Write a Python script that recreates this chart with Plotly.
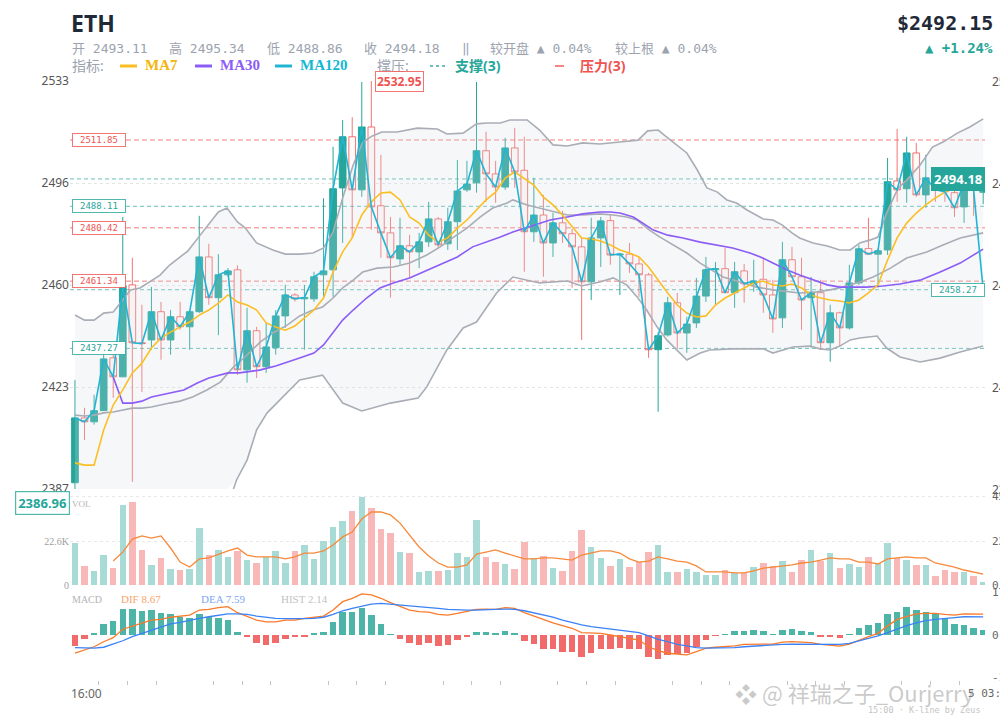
import plotly.graph_objects as go

# ---- ETH 15m candles ----
opens = [2389.2, 2412.4, 2411.0, 2415.0, 2433.9, 2427.1, 2460.0, 2439.3, 2440.3, 2450.4,
         2440.3, 2448.6, 2445.0, 2450.4, 2470.0, 2455.4, 2463.6, 2465.4, 2429.6, 2443.6,
         2430.7, 2437.5, 2448.9, 2456.4, 2455.0, 2455.0, 2463.6, 2465.4, 2494.7, 2513.0,
         2494.0, 2516.5, 2488.3, 2478.6, 2469.3, 2474.0, 2471.8, 2475.4, 2483.6, 2474.7,
         2482.6, 2494.0, 2496.5, 2508.0, 2499.7, 2495.0, 2509.0, 2501.0, 2479.0, 2485.0,
         2475.0, 2482.2, 2478.3, 2473.6, 2461.1, 2476.8, 2483.0, 2470.7, 2471.0, 2467.5,
         2463.6, 2436.8, 2442.1, 2453.6, 2442.8, 2446.4, 2456.0, 2465.4, 2465.8, 2457.2,
         2465.0, 2460.4, 2462.0, 2456.4, 2448.2, 2469.0, 2462.9, 2455.4, 2457.2, 2439.3,
         2450.0, 2444.6, 2460.7, 2473.0, 2471.0, 2472.5, 2497.2, 2494.4, 2507.2, 2492.2,
         2498.3, 2495.8, 2493.0, 2487.9, 2495.5, 2493.11]
highs = [2426.0, 2416.0, 2420.7, 2436.0, 2435.0, 2484.3, 2469.7, 2452.9, 2459.3, 2453.9,
         2451.0, 2453.9, 2451.0, 2484.7, 2474.7, 2471.0, 2466.0, 2467.0, 2451.8, 2445.0,
         2446.4, 2451.0, 2460.0, 2457.0, 2460.0, 2464.7, 2491.0, 2509.4, 2519.0, 2520.0,
         2532.6, 2532.95, 2506.5, 2484.3, 2484.0, 2477.9, 2478.6, 2489.7, 2484.3, 2487.6,
         2504.7, 2504.4, 2532.6, 2514.8, 2504.4, 2512.6, 2516.2, 2513.0, 2498.3, 2492.2,
         2485.8, 2486.5, 2480.0, 2476.8, 2484.0, 2484.3, 2485.0, 2471.5, 2475.0, 2470.0,
         2464.3, 2443.0, 2455.7, 2457.1, 2448.6, 2462.5, 2470.0, 2468.2, 2473.2, 2468.2,
         2467.5, 2469.0, 2469.7, 2461.8, 2475.4, 2473.6, 2469.7, 2462.9, 2461.8, 2452.9,
         2450.4, 2467.2, 2474.3, 2484.0, 2473.0, 2505.4, 2515.8, 2513.0, 2510.8, 2506.5,
         2502.0, 2497.0, 2495.0, 2500.0, 2496.0, 2495.34]
lows = [2386.96, 2404.5, 2410.0, 2415.0, 2419.6, 2427.0, 2389.5, 2421.7, 2436.8, 2433.2,
        2435.0, 2444.0, 2436.8, 2450.0, 2452.9, 2442.0, 2463.0, 2427.8, 2425.0, 2426.7,
        2428.5, 2435.0, 2444.6, 2454.0, 2436.8, 2453.9, 2455.7, 2455.7, 2475.0, 2476.8,
        2491.5, 2479.7, 2469.7, 2455.4, 2467.2, 2462.5, 2466.0, 2473.6, 2473.0, 2472.5,
        2472.5, 2493.3, 2493.0, 2489.7, 2489.4, 2494.0, 2494.7, 2464.7, 2475.4, 2462.9,
        2470.0, 2475.0, 2459.0, 2440.3, 2454.6, 2466.4, 2467.2, 2456.4, 2464.3, 2455.7,
        2433.9, 2414.6, 2441.5, 2437.0, 2435.7, 2444.6, 2453.9, 2452.9, 2457.0, 2451.8,
        2453.6, 2457.5, 2450.0, 2442.8, 2444.6, 2462.5, 2443.9, 2437.5, 2436.8, 2432.5,
        2437.8, 2444.0, 2460.0, 2471.0, 2459.0, 2470.7, 2489.7, 2489.4, 2491.5, 2487.6,
        2489.7, 2489.7, 2484.3, 2482.2, 2484.7, 2488.86]
closes = [2412.4, 2411.0, 2415.0, 2433.5, 2427.1, 2459.7, 2439.3, 2439.0, 2450.4, 2440.3,
          2448.6, 2445.0, 2450.4, 2470.0, 2455.4, 2463.6, 2465.0, 2429.6, 2443.6, 2430.7,
          2437.8, 2448.9, 2456.4, 2455.0, 2455.5, 2462.9, 2465.0, 2494.4, 2513.0, 2494.0,
          2516.5, 2487.9, 2478.6, 2469.7, 2474.0, 2471.8, 2475.4, 2483.6, 2474.3, 2482.6,
          2493.6, 2496.1, 2508.0, 2499.7, 2495.0, 2509.0, 2500.4, 2479.0, 2485.0, 2475.0,
          2482.2, 2478.3, 2473.6, 2461.1, 2476.8, 2482.9, 2470.7, 2471.0, 2467.5, 2463.6,
          2436.8, 2441.8, 2453.6, 2442.8, 2446.0, 2456.0, 2465.4, 2465.8, 2457.2, 2464.7,
          2460.4, 2461.4, 2456.4, 2447.8, 2469.0, 2462.9, 2454.6, 2457.2, 2439.3, 2450.0,
          2444.6, 2460.7, 2472.9, 2471.0, 2472.2, 2496.9, 2494.0, 2507.2, 2492.2, 2498.3,
          2494.0, 2493.3, 2487.6, 2496.5, 2494.0, 2494.18]

# indicator lines on the price panel
ma7 = [2396.3, 2395.5, 2395.5, 2408.1, 2417.0, 2422.4, 2428.5, 2432.0, 2437.4, 2441.0,
       2443.1, 2444.9, 2446.7, 2449.2, 2451.0, 2453.5, 2456.4, 2453.9, 2452.8, 2451.0,
       2446.4, 2444.9, 2443.8, 2445.3, 2448.1, 2451.0, 2455.3, 2464.6, 2471.8, 2476.8,
       2485.0, 2489.7, 2492.9, 2493.2, 2490.4, 2484.3, 2482.1, 2477.8, 2475.3, 2476.8,
       2480.3, 2483.2, 2486.8, 2490.4, 2493.2, 2498.2, 2500.4, 2498.2, 2495.7, 2491.4,
       2488.6, 2485.0, 2480.7, 2476.8, 2476.4, 2475.7, 2474.3, 2472.5, 2471.4, 2470.0,
       2466.4, 2461.7, 2457.1, 2452.8, 2449.9, 2448.5, 2448.9, 2452.8, 2455.3, 2457.1,
       2458.9, 2460.7, 2461.4, 2460.0, 2459.6, 2460.3, 2458.9, 2456.4, 2455.3, 2454.6,
       2454.2, 2453.5, 2454.6, 2457.1, 2460.0, 2468.9, 2476.8, 2482.1, 2485.7, 2488.6,
       2491.1, 2493.2, 2494.7, 2495.0, 2494.3, 2494.3]
ma30_x = [4, 5, 6, 7, 8, 10, 11.4, 12.8, 14, 16, 17.2, 19.3, 21, 23.5, 25, 26, 27, 28, 29.1, 30.5,
          31.9, 33.3, 35, 36.4, 38.2, 40, 41.6, 43.1, 44.5, 45.8, 48, 49.7, 51.5, 53.1, 54.9, 56,
          57, 58.4, 59.4, 60.5, 62, 63.6, 65.4, 67.2, 68.8, 70.6, 71.7, 73, 74.5, 75.8, 77.2,
          78.7, 80, 81.4, 82.8, 84.5, 86.3, 88.4, 90.5, 92.6, 95]
ma30 = [2427.0, 2417.7, 2417.7, 2418.4, 2419.9, 2421.3, 2422.4, 2424.9, 2426.7, 2428.5,
        2428.5, 2429.5, 2431.0, 2433.8, 2435.6, 2438.5, 2443.1, 2447.4, 2451.0, 2455.3,
        2458.9, 2460.7, 2462.5, 2464.6, 2467.5, 2470.0, 2473.6, 2475.3, 2477.1, 2478.9,
        2481.4, 2483.2, 2484.3, 2485.4, 2486.1, 2486.1, 2485.7, 2484.3, 2482.1, 2479.6,
        2477.8, 2476.8, 2475.3, 2474.3, 2473.2, 2471.4, 2470.0, 2467.8, 2465.3, 2463.5,
        2461.7, 2460.0, 2459.2, 2459.2, 2459.2, 2459.6, 2460.3, 2461.7, 2464.6, 2467.8, 2472.8]
# MA120 line follows the closes, except the last point
ma120 = closes[:-1] + [2458.27]

bb_upper_x = [0, 1, 2, 3, 4, 5, 5.8, 6.8, 8.9, 9.9, 11.8, 13.1, 15, 15.9, 17, 17.8, 19, 20.7, 22,
              23.5, 24.9, 26, 27, 28, 29.1, 30.1, 31.1, 32.1, 33.7, 35.8, 37.9, 38.9, 40.6, 42,
              43.1, 44.5, 45.5, 47.3, 48.6, 50, 51.5, 53.1, 54.9, 57, 58.9, 59.9, 61, 62, 64,
              65.1, 66.1, 67.2, 68.2, 69.2, 70.3, 72, 73, 74, 75, 75.8, 77.2, 78.7, 80, 81.1,
              82.1, 83.2, 84, 84.9, 86.1, 87, 88.4, 89.7, 90.8, 92.3, 93.6, 95]
bb_upper = [2449.2, 2447.4, 2447.4, 2449.9, 2450.3, 2454.6, 2458.2, 2458.9, 2463.5, 2467.1,
            2472.1, 2477.8, 2486.1, 2487.5, 2482.5, 2480.4, 2475.0, 2472.5, 2471.0, 2471.0,
            2471.4, 2473.2, 2478.9, 2491.1, 2502.9, 2511.1, 2513.3, 2514.7, 2514.7, 2516.1,
            2515.8, 2514.0, 2514.3, 2517.6, 2517.9, 2517.9, 2519.0, 2519.0, 2515.4, 2510.1,
            2509.7, 2510.8, 2510.4, 2511.1, 2511.8, 2515.1, 2515.4, 2512.6, 2507.2, 2501.1,
            2494.7, 2493.2, 2490.4, 2489.3, 2486.8, 2483.6, 2483.2, 2481.4, 2478.6, 2476.8,
            2475.0, 2473.9, 2472.5, 2472.5, 2475.0, 2476.1, 2477.1, 2485.7, 2494.7, 2497.5,
            2502.9, 2509.3, 2511.1, 2514.3, 2516.5, 2519.4]
bb_mid_x = [0, 1, 2, 3, 4, 5, 6, 7, 8, 9.9, 11, 12.3, 13.8, 15.2, 16.5, 18, 19.4, 20.7, 22.2,
            23.5, 24.9, 25.9, 27, 28, 29.1, 30.1, 31.6, 33.3, 35, 36.8, 38.2, 39.5, 41, 42.4,
            43.7, 45.2, 45.8, 47.3, 48.6, 50, 51.5, 53.1, 54.9, 56.3, 57.7, 58.8, 60.1, 61.2,
            62.6, 64, 65.4, 66.4, 67.8, 69.6, 71.3, 73, 74.5, 75.8, 77.6, 79, 80.3, 82.1, 83.5,
            85.3, 87, 89.1, 90.8, 92.6, 95]
bb_mid = [2413.4, 2413.1, 2413.4, 2414.2, 2414.5, 2415.2, 2415.9, 2415.9, 2416.3, 2417.7,
          2418.4, 2419.9, 2422.4, 2425.2, 2430.3, 2434.9, 2439.6, 2442.8, 2445.6, 2448.9,
          2451.0, 2452.1, 2455.3, 2458.9, 2461.7, 2464.6, 2466.0, 2466.4, 2467.8, 2470.7,
          2473.6, 2476.8, 2480.3, 2484.3, 2487.5, 2489.3, 2490.4, 2488.6, 2487.5, 2486.1,
          2485.0, 2485.0, 2485.4, 2485.0, 2484.3, 2483.2, 2479.6, 2477.1, 2474.3, 2471.4,
          2467.8, 2465.7, 2462.8, 2461.0, 2459.2, 2458.2, 2457.5, 2457.1, 2457.5, 2458.2,
          2459.2, 2461.0, 2462.8, 2466.0, 2469.6, 2471.8, 2474.3, 2476.8, 2478.6]
bb_lower_x = [0, 1.9, 4, 4.9, 6, 7, 7.9, 9, 11, 11.9, 13, 13.9, 15, 15.9, 16.9, 18, 19, 20.1,
              21.4, 22.8, 23.5, 25.9, 28, 30, 33, 35.9, 36.8, 38.9, 40.6, 42, 44.1, 45.8, 48.6,
              51.5, 53, 54.9, 56.3, 57.7, 58.8, 59.8, 60.9, 61.9, 63, 64, 65.4, 66.4, 68.8, 70.9,
              72, 73, 74.1, 75.1, 76.9, 77.9, 79, 80, 81.1, 82.1, 83.9, 84.9, 86.3, 88.4, 90.5,
              92.6, 95]
bb_lower = [2378.4, 2378.0, 2377.6, 2374.8, 2374.4, 2374.4, 2373.0, 2374.1, 2373.7, 2373.4,
            2371.6, 2372.3, 2373.0, 2380.2, 2390.2, 2397.3, 2408.1, 2414.2, 2418.8, 2423.5,
            2426.0, 2427.7, 2417.7, 2414.9, 2417.7, 2419.5, 2423.5, 2436.7, 2444.6, 2446.7,
            2457.1, 2462.8, 2460.7, 2461.4, 2459.6, 2461.0, 2462.5, 2460.0, 2455.7, 2451.0,
            2444.9, 2440.3, 2436.7, 2433.1, 2435.6, 2436.7, 2437.1, 2437.1, 2437.1, 2435.6,
            2436.7, 2437.8, 2438.1, 2437.1, 2436.7, 2438.1, 2440.3, 2441.0, 2441.7, 2437.4,
            2434.2, 2432.4, 2433.8, 2436.0, 2438.1]

# volume panel (thousands)
volume_k = [21.6, 9.8, 7.2, 15.4, 8.7, 41.0, 42.6, 18.0, 10.3, 13.9,
            8.2, 7.7, 8.2, 29.3, 15.4, 18.0, 14.4, 17.5, 12.8, 11.3,
            14.4, 17.5, 11.3, 17.5, 20.5, 13.4, 22.6, 29.8, 32.9, 38.0,
            45.3, 39.5, 28.8, 26.7, 17.0, 16.4, 6.7, 7.2, 7.2, 7.7,
            16.4, 14.4, 33.4, 14.4, 11.8, 10.8, 8.2, 22.1, 13.9, 14.9,
            8.7, 7.2, 17.5, 28.2, 19.5, 13.9, 9.8, 13.4, 9.2, 11.8,
            16.9, 20.5, 6.7, 6.7, 8.2, 6.7, 5.1, 5.0, 7.7, 6.2,
            6.2, 9.2, 11.3, 9.8, 12.3, 6.7, 12.8, 18.0, 12.3, 16.4,
            8.7, 10.8, 9.2, 14.4, 11.3, 21.6, 13.9, 12.8, 10.3, 10.3,
            4.6, 7.7, 6.7, 6.7, 4.6, 1.5]
vol_ma_start = 4
vol_ma_k = [12.3, 16.9, 23.6, 25.2, 24.1, 25.2, 19.0, 11.8, 9.2, 13.4,
            13.9, 15.9, 17.5, 19.0, 15.4, 14.4, 14.4, 14.4, 13.4, 14.4,
            16.4, 16.4, 17.5, 20.5, 24.7, 27.2, 33.9, 37.5, 37.5, 36.0,
            31.8, 25.7, 19.5, 14.9, 11.3, 9.2, 9.2, 10.3, 15.9, 16.9,
            18.0, 16.4, 14.9, 13.4, 13.4, 13.9, 13.9, 13.4, 12.8, 15.4,
            16.4, 17.5, 17.5, 16.4, 13.4, 11.8, 12.3, 14.4, 13.4, 12.3,
            11.8, 9.8, 6.7, 6.7, 6.7, 6.2, 6.2, 7.2, 8.7, 9.2,
            9.8, 10.3, 11.3, 11.8, 12.8, 13.9, 13.4, 13.4, 11.8, 11.8,
            10.8, 13.4, 13.9, 14.4, 13.9, 13.9, 11.3, 10.3, 9.2, 7.7,
            6.7, 5.6]

# MACD panel
macd_hist = [-4.6, -1.7, 0.7, 4.4, 5.8, 10.7, 10.7, 10.0, 10.4, 9.0,
             8.8, 7.6, 6.9, 8.6, 7.4, 6.9, 6.2, 1.1, -0.7, -3.5,
             -4.2, -3.2, -1.7, -1.0, -0.7, 0.7, 1.4, 5.3, 9.4, 9.4,
             11.4, 8.3, 4.4, 0.4, -1.7, -3.5, -4.2, -3.5, -4.4, -4.0,
             -2.1, -0.7, 1.4, 1.4, 0.7, 1.7, 1.0, -2.4, -3.8, -5.8,
             -6.0, -6.9, -7.2, -9.0, -7.6, -5.8, -5.8, -5.6, -5.8, -5.8,
             -9.0, -10.0, -8.3, -8.0, -7.4, -4.9, -2.1, -0.3, 0.4, 1.7,
             1.8, 2.1, 1.7, 0.4, 2.1, 2.5, 1.7, 1.4, -0.7, -0.7,
             -1.4, 0.4, 3.1, 4.2, 5.1, 8.6, 9.7, 11.8, 10.4, 9.7,
             8.6, 6.9, 4.6, 4.2, 3.1, 2.14]
macd_dif = [-7.6, -6.3, -4.9, -2.8, -1.1, 2.4, 3.8, 4.9, 6.2, 6.5,
            7.4, 7.9, 8.3, 10.4, 10.7, 11.4, 11.8, 9.3, 7.6, 6.2,
            5.5, 5.5, 6.2, 6.2, 6.9, 7.5, 7.9, 10.4, 13.9, 15.3,
            17.1, 16.7, 15.3, 13.5, 11.8, 10.4, 9.7, 9.5, 8.6, 8.3,
            9.0, 9.7, 10.7, 10.8, 10.7, 11.4, 11.1, 9.3, 7.9, 6.2,
            5.1, 3.9, 2.8, 1.0, 1.0, 0.7, 0.0, -0.7, -1.4, -2.1,
            -4.9, -6.5, -7.6, -7.9, -8.3, -6.9, -5.5, -5.1, -4.9, -4.5,
            -3.9, -3.8, -4.0, -3.8, -3.0, -2.8, -3.0, -3.2, -3.9, -4.2,
            -4.6, -3.8, -2.1, -0.7, 0.7, 3.8, 6.5, 7.6, 8.8, 9.0,
            9.0, 8.6, 8.3, 8.8, 8.6, 8.67]
macd_dea = [-5.3, -5.5, -5.5, -5.1, -3.9, -2.4, -0.7, 0.7, 2.1, 3.5,
            4.6, 5.3, 6.2, 6.9, 7.6, 8.3, 8.8, 8.8, 8.6, 7.9,
            7.4, 6.9, 6.8, 6.7, 6.8, 6.9, 7.4, 8.6, 10.1, 11.1,
            12.1, 12.9, 13.2, 12.9, 12.5, 12.1, 11.8, 11.4, 11.1, 10.7,
            10.4, 10.4, 10.4, 10.4, 10.7, 10.8, 10.7, 10.1, 9.3, 8.3,
            7.4, 6.2, 5.1, 4.2, 3.5, 3.0, 2.5, 2.1, 1.7, 1.0,
            -0.4, -1.8, -2.8, -3.9, -4.5, -5.3, -5.5, -5.5, -5.5, -5.3,
            -4.9, -4.6, -4.5, -4.2, -3.9, -3.8, -3.8, -3.8, -3.8, -3.9,
            -3.9, -3.5, -2.5, -1.4, -0.4, 1.0, 2.5, 3.9, 5.1, 6.0,
            6.5, 7.0, 7.2, 7.6, 7.6, 7.59]

# support / pressure levels and the live price line
support_levels = [2488.11, 2437.27, 2458.27]
support_label_side = ["left", "left", "right"]
pressure_levels = [2511.85, 2480.42, 2461.34]
price_line = 2497.9
last_price_text = "2494.18"

price_tick_labels = ["2387", "2423", "2460", "2496", "2533"]
vol_tick_labels = ["0", "22.6K", "45.3K"]
vol_tick_vals = [0, 22.6, 45.3]
macd_tick_labels = ["-17.52", "0", "17.52"]
macd_tick_vals = [-17.52, 0, 17.52]

header_stats = [("开 2493.11", 70), ("高 2495.34", 167), ("低 2488.86", 265),
                ("收 2494.18", 362), ("‖", 460), ("较开盘 ▲ 0.04%", 488), ("较上根 ▲ 0.04%", 613)]

# ---- layout geometry (pixels) ----
W, H = 1000, 720
ML, MR, MT, MB = 70, 15, 81, 40
PW, PH = W - ML - MR, H - MT - MB
PRICE_TOP_PX, PRICE_BOT_PX = 81, 489
VOL_ZERO_PX, VOL_PX_PER_K = 585, 1.947
MACD_ZERO_PX, MACD_PX_PER_UNIT, MACD_TOP_PX = 635, 2.4, 590


def fx(px):
    return (px - ML) / PW


def fy(py):
    return (H - MB - py) / PH


UP = "#26a69a"
DOWN = "#ef5350"
SANS = "Noto Sans, Noto Sans CJK SC, sans-serif"
MONO = "DejaVu Sans Mono, Noto Sans CJK SC, monospace"
SERIF = "Liberation Serif, DejaVu Serif, serif"

n = len(closes)
idx = list(range(n))
hi, lo = max(highs), min(lows)
scale = (PRICE_BOT_PX - PRICE_TOP_PX) / (hi - lo)
price_bottom = hi - PH / scale
price_ticks = [lo + k * (hi - lo) / 4 for k in range(5)]
x_lo = -0.52
x_hi = x_lo + PW / 9.56

fig = go.Figure()

# bollinger band fill, clipped at the bottom of the price pane
fig.add_trace(go.Scatter(x=bb_upper_x, y=bb_upper, mode="lines", line=dict(width=0),
                         hoverinfo="skip", showlegend=False))
fig.add_trace(go.Scatter(x=bb_lower_x, y=[max(v, lo) for v in bb_lower], mode="lines",
                         line=dict(width=0), fill="tonexty", fillcolor="rgba(214,219,228,0.22)",
                         hoverinfo="skip", showlegend=False))
for xs, ys in ((bb_upper_x, bb_upper), (bb_mid_x, bb_mid), (bb_lower_x, bb_lower)):
    fig.add_trace(go.Scatter(x=xs, y=ys, mode="lines", line=dict(color="#a9adb6", width=1.6),
                             hoverinfo="skip", showlegend=False))

fig.add_trace(go.Candlestick(
    x=idx, open=opens, high=highs, low=lows, close=closes,
    increasing=dict(line=dict(color=UP, width=1), fillcolor=UP),
    decreasing=dict(line=dict(color="rgba(239,83,80,0.8)", width=1), fillcolor="#fffafa"),
    whiskerwidth=0, showlegend=False, hoverinfo="skip"))

fig.add_trace(go.Scatter(x=ma30_x, y=ma30, mode="lines", line=dict(color="#8b5cf6", width=1.6),
                         hoverinfo="skip", showlegend=False))
fig.add_trace(go.Scatter(x=idx, y=ma7, mode="lines", line=dict(color="#fbbf24", width=1.6),
                         hoverinfo="skip", showlegend=False))
fig.add_trace(go.Scatter(x=idx, y=ma120, mode="lines", line=dict(color="#22b5d3", width=1.6),
                         hoverinfo="skip", showlegend=False))

# volume
vol_colors = ["#a8dbd5" if c >= o else "#f8b8b7" for o, c in zip(opens, closes)]
fig.add_trace(go.Bar(x=idx, y=volume_k, width=0.68, marker=dict(color=vol_colors, line=dict(width=0)),
                     yaxis="y2", hoverinfo="skip", showlegend=False))
fig.add_trace(go.Scatter(x=list(range(vol_ma_start, n)), y=vol_ma_k, mode="lines",
                         line=dict(color="#f7893a", width=1.3), yaxis="y2",
                         hoverinfo="skip", showlegend=False))

# MACD
hist_colors = ["#4cb5a8" if v >= 0 else "#f06b69" for v in macd_hist]
fig.add_trace(go.Bar(x=idx, y=macd_hist, width=0.68, marker=dict(color=hist_colors, line=dict(width=0)),
                     yaxis="y3", hoverinfo="skip", showlegend=False))
fig.add_trace(go.Scatter(x=idx, y=macd_dif, mode="lines", line=dict(color="#f97a2a", width=1.3),
                         yaxis="y3", hoverinfo="skip", showlegend=False))
fig.add_trace(go.Scatter(x=idx, y=macd_dea, mode="lines", line=dict(color="#3b82f6", width=1.3),
                         yaxis="y3", hoverinfo="skip", showlegend=False))

# level lines
shapes = []
for lv in pressure_levels:
    shapes.append(dict(type="line", xref="paper", x0=0, x1=1, yref="y", y0=lv, y1=lv, layer="below",
                       line=dict(color="rgba(239,83,80,0.75)", width=1, dash="5px,3px")))
for lv in support_levels + [price_line]:
    shapes.append(dict(type="line", xref="paper", x0=0, x1=1, yref="y", y0=lv, y1=lv, layer="below",
                       line=dict(color="rgba(38,166,154,0.7)", width=1, dash="4px,3px")))

# header legend swatches
for x0, color, dash, w in ((120, "#fbbf24", "solid", 3), (195, "#8b5cf6", "solid", 3),
                           (275, "#22b5d3", "solid", 3), (430, "rgba(38,166,154,0.7)", "dot", 2),
                           (555, "rgba(239,83,80,0.7)", "dash", 2)):
    shapes.append(dict(type="line", xref="paper", yref="paper", x0=fx(x0), x1=fx(x0 + 17),
                       y0=fy(66), y1=fy(66), line=dict(color=color, width=w, dash=dash)))


def note(text, x, y, size=12, color="#9ca3af", family=SANS, xanchor="left", **kw):
    return dict(text=text, x=fx(x), y=fy(y), xref="paper", yref="paper", showarrow=False,
                xanchor=xanchor, yanchor="middle", font=dict(size=size, color=color, family=family), **kw)


ann = [note("<b>ETH</b>", 69, 23, size=23, color="#1f2937"),
       note("<b>$2492.15</b>", 995, 23, size=20, color="#1f2937", family=MONO, xanchor="right"),
       note("<b>▲ +1.24%</b>", 995, 48, size=14, color=UP, family=MONO, xanchor="right"),
       note("指标:", 70, 65, size=14),
       note("<b>MA7</b>", 143, 65, size=15, color="#f5b50a", family=SERIF),
       note("<b>MA30</b>", 218, 65, size=15, color="#8b5cf6", family=SERIF),
       note("<b>MA120</b>", 298, 65, size=15, color="#14b8d4", family=SERIF),
       note("撑压:", 375, 65, size=14),
       note("<b>支撑(3)</b>", 453, 65, size=14, color=UP),
       note("<b>压力(3)</b>", 578, 65, size=14, color=DOWN),
       note("VOL", 70, 504, size=9, color="#b4b4b4", family=SERIF),
       note("MACD", 70, 599, size=10, color="#b4b4b4", family=SERIF),
       note(f"DIF {macd_dif[-1]:.2f}", 119, 599, size=11, color="#f7a36d", family=SERIF),
       note(f"DEA {macd_dea[-1]:.2f}", 199, 599, size=11, color="#7ea7f2", family=SERIF),
       note(f"HIST {macd_hist[-1]:.2f}", 279, 599, size=11, color="#c2c2c2", family=SERIF),
       note("16:00", 69, 693, size=12, color="#666"),
       note("5 03:45", 966, 693, size=11, color="#666", family=MONO),
       note("❖ @ 祥瑞之子_Ourjerry", 733, 692, size=22, color="rgba(150,150,150,0.5)",
            family="Noto Sans CJK SC, DejaVu Sans"),
       note("15:00 · K-line by Zeus", 866, 710, size=8.5, color="#c4c4c4", family=MONO)]

for text, x in header_stats:
    ann.append(note(text, x, 49, size=13, family=MONO))

# level tags
for lv in pressure_levels:
    ann.append(dict(text=f"{lv:.2f}", x=fx(72), xref="paper", y=lv, yref="y", xanchor="left",
                    showarrow=False, width=50, font=dict(size=9, color=DOWN, family=MONO),
                    bgcolor="white", bordercolor="rgba(239,83,80,0.8)", borderwidth=1, borderpad=1))
for lv, side in zip(support_levels, support_label_side):
    ann.append(dict(text=f"{lv:.2f}", x=fx(72) if side == "left" else 1, xref="paper", y=lv, yref="y",
                    xanchor=side, showarrow=False, width=50, font=dict(size=9, color=UP, family=MONO),
                    bgcolor="white", bordercolor="rgba(38,166,154,0.8)", borderwidth=1, borderpad=1))
ann.append(dict(text=f"<b>{last_price_text}</b>", x=1, xref="paper", y=price_line, yref="y",
                xanchor="right", showarrow=False, font=dict(size=13, color="white", family=SANS),
                bgcolor=UP, bordercolor=UP, borderwidth=1, borderpad=2))
ann.append(dict(text=f"<b>{hi:.2f}</b>", x=highs.index(hi), y=hi, xref="x", yref="y", xanchor="left",
                xshift=4, showarrow=False, font=dict(size=12, color=DOWN, family=SANS),
                bgcolor="white", bordercolor="rgba(239,83,80,0.8)", borderwidth=1, borderpad=1))
ann.append(dict(text=f"<b>{lo:.2f}</b>", x=0, xref="paper", y=lo, yref="y", xanchor="right",
                yshift=-14, showarrow=False, font=dict(size=13, color=UP, family=SANS),
                bgcolor="white", bordercolor="rgba(38,166,154,0.8)", borderwidth=1.2, borderpad=2))

# right-hand axis labels (cut by the window edge like the original)
for v, t in zip(price_ticks, price_tick_labels):
    ann.append(dict(text=t, x=fx(990), xref="paper", y=v, yref="y", xanchor="left", showarrow=False,
                    font=dict(size=12, color="#555", family=SANS)))
for v, t in zip(vol_tick_vals, vol_tick_labels):
    ann.append(dict(text=t, x=fx(990), xref="paper", y=v, yref="y2", xanchor="left", showarrow=False,
                    font=dict(size=11, color="#666", family=MONO)))
for v, t in zip(macd_tick_vals, macd_tick_labels):
    ann.append(dict(text=t, x=fx(990), xref="paper", y=v, yref="y3", xanchor="left", showarrow=False,
                    font=dict(size=11, color="#666", family=MONO)))

x_ticks = [k + 0.5 for k in range(2, n - 1, 3) if (k + 1) % 12 != 0]

fig.update_layout(
    width=W, height=H, margin=dict(l=ML, r=MR, t=MT, b=MB),
    paper_bgcolor="white", plot_bgcolor="white", showlegend=False, hovermode=False,
    boxgap=0.3, boxgroupgap=0, bargap=0,
    xaxis=dict(range=[x_lo, x_hi], showgrid=False, zeroline=False, showline=False,
               rangeslider=dict(visible=False), tickvals=x_ticks, ticks="outside", ticklen=4,
               tickcolor="#c4c4c4", showticklabels=False),
    yaxis=dict(domain=[0, 1], range=[price_bottom, hi], tickvals=price_ticks, ticktext=price_tick_labels,
               showgrid=True, gridcolor="#e4e4e4", griddash="dot", zeroline=False, showline=False,
               tickfont=dict(size=12, color="#555", family=SANS)),
    yaxis2=dict(domain=[fy(VOL_ZERO_PX), fy(PRICE_BOT_PX)], anchor="x",
                range=[0, (VOL_ZERO_PX - PRICE_BOT_PX) / VOL_PX_PER_K],
                tickvals=vol_tick_vals, ticktext=vol_tick_labels, showgrid=True, gridcolor="#e8e8e8",
                griddash="dot", zeroline=False, showline=False,
                tickfont=dict(size=10, color="#a0a0a0", family=SERIF)),
    yaxis3=dict(domain=[0, fy(MACD_TOP_PX)], anchor="x",
                range=[-(H - MB - MACD_ZERO_PX) / MACD_PX_PER_UNIT, (MACD_ZERO_PX - MACD_TOP_PX) / MACD_PX_PER_UNIT],
                showgrid=False, zeroline=False, showline=False, showticklabels=False),
    shapes=shapes, annotations=ann,
)

fig.write_html("out.html", config={"displayModeBar": False},
               post_script="document.body.style.margin='0';")
